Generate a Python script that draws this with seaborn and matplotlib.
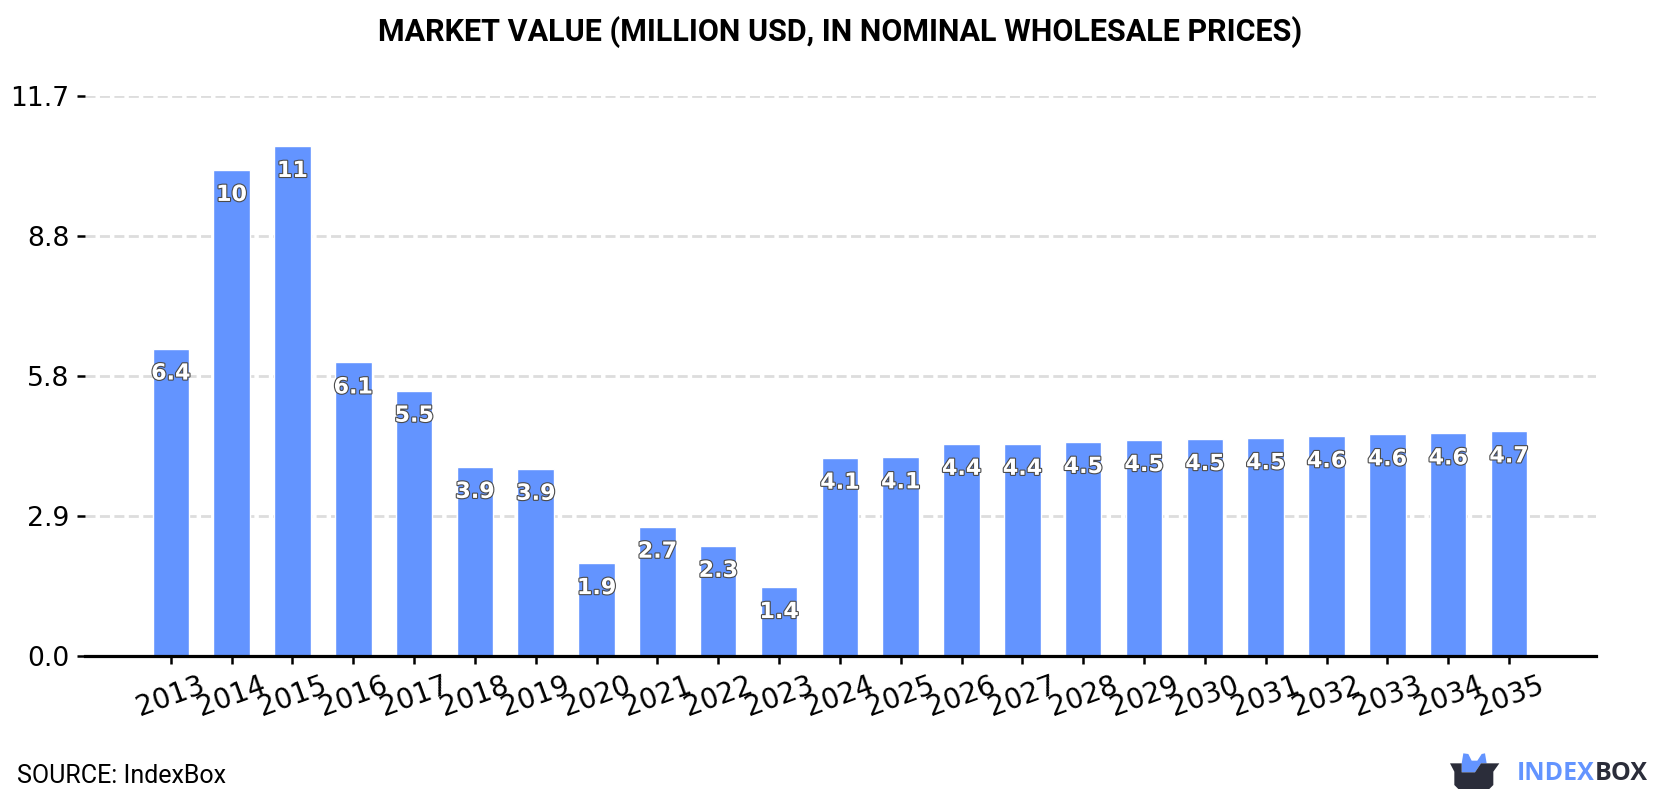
import matplotlib
matplotlib.use("Agg")
import matplotlib.pyplot as plt
import matplotlib.patheffects as pe
from matplotlib.patches import Polygon
import pandas as pd
import seaborn as sns

years = [str(y) for y in range(2013, 2036)]
values = [6.42, 10.15, 10.65, 6.13, 5.54, 3.949, 3.91, 1.94, 2.70, 2.30, 1.44,
          4.14, 4.149, 4.43, 4.43, 4.47, 4.51, 4.53, 4.549, 4.59, 4.63, 4.649, 4.69]
y_ticks = [0.0, 2.925, 5.85, 8.775, 11.7]
title_text = "MARKET VALUE (MILLION USD, IN NOMINAL WHOLESALE PRICES)"
source_text = "SOURCE: IndexBox"

BLUE = "#6394ff"
DARK = "#2b2d3a"

sns.set_theme(style="white")
fig = plt.figure(figsize=(16.8, 8), dpi=100, facecolor="white")
ax = fig.add_axes([85 / 1680, 144 / 800, 1511 / 1680, 560.3 / 800])

table = pd.DataFrame({"year": years, "value": values})
sns.barplot(data=table, x="year", y="value", color=BLUE, saturation=1,
            width=0.6, ax=ax, zorder=3)

ax.set_xlim(-1.41, 23.43)
ax.set_ylim(0, 11.7)
ax.set_xlabel("")
ax.set_ylabel("")

# Dashed horizontal guides behind the bars
ax.set_yticks(y_ticks, [f"{t:.1f}" for t in y_ticks])
ax.grid(axis="y", color="#dddddd", lw=2, ls=(0, (3.6, 1.6)), zorder=0)
ax.set_axisbelow(True)

for side in ("top", "right", "left"):
    ax.spines[side].set_visible(False)
ax.spines["bottom"].set_linewidth(2.3)
ax.spines["bottom"].set_color("black")
ax.spines["bottom"].set_capstyle("projecting")
ax.spines["bottom"].set_zorder(5)

ax.tick_params(axis="y", which="major", left=True, length=6, width=1.8, pad=5,
               labelsize=19.2, colors="black")
ax.tick_params(axis="x", which="major", bottom=True, length=6, width=1.8, pad=5,
               labelsize=20, colors="black")
for label in ax.get_xticklabels():
    label.set_rotation(20)
    label.set_ha("center")
for label in ax.get_xticklabels() + ax.get_yticklabels():
    label.set_fontfamily("DejaVu Sans")

# Value labels sit just inside the top of each bar
for i, v in enumerate(values):
    ax.annotate(f"{v:.2g}", xy=(i, v), xytext=(0, -18.0), textcoords="offset points",
                ha="center", va="center", fontsize=16, fontweight="bold",
                family="DejaVu Sans", color="white", zorder=6,
                path_effects=[pe.withStroke(linewidth=1.6, foreground="#4a4a4a")])

fig.text(0.5, 1 - 32 / 800, title_text, ha="center", va="center",
         family="Roboto", fontweight="bold", fontsize=22, color="black")
fig.text(17 / 1680, 1 - 776 / 800, source_text, ha="left", va="center",
         family="Roboto", fontsize=18, color="black")

# Brand mark, laid out on a full-figure overlay in pixel units
overlay = fig.add_axes([0, 0, 1, 1], facecolor="none", zorder=10)
overlay.set_xlim(0, 1680)
overlay.set_ylim(800, 0)
overlay.axis("off")


def logo_pts(pts):
    return [(1400 + a / 3, 730 + b / 3) for a, b in pts]


overlay.add_patch(Polygon(logo_pts([(185, 100), (190, 70), (205, 72), (215, 92), (232, 92),
                                    (245, 72), (255, 70), (260, 100), (243, 100),
                                    (225, 127), (185, 127)]),
                          closed=True, fc=BLUE, ec="none"))
overlay.add_patch(Polygon(logo_pts([(150, 100), (185, 100), (185, 127), (225, 127), (243, 100),
                                    (298, 100), (280, 125), (280, 165), (268, 177),
                                    (175, 177), (163, 165), (163, 125)]),
                          closed=True, fc=DARK, ec="none"))
overlay.text(1517, 773.5, "INDEX", ha="left", va="center", family="Open Sans",
             fontweight="bold", fontsize=18, color=BLUE)
overlay.text(1595, 773.5, "BOX", ha="left", va="center", family="Open Sans",
             fontweight="bold", fontsize=18, color=DARK)

fig.savefig("out.png", dpi=100, facecolor="white")
